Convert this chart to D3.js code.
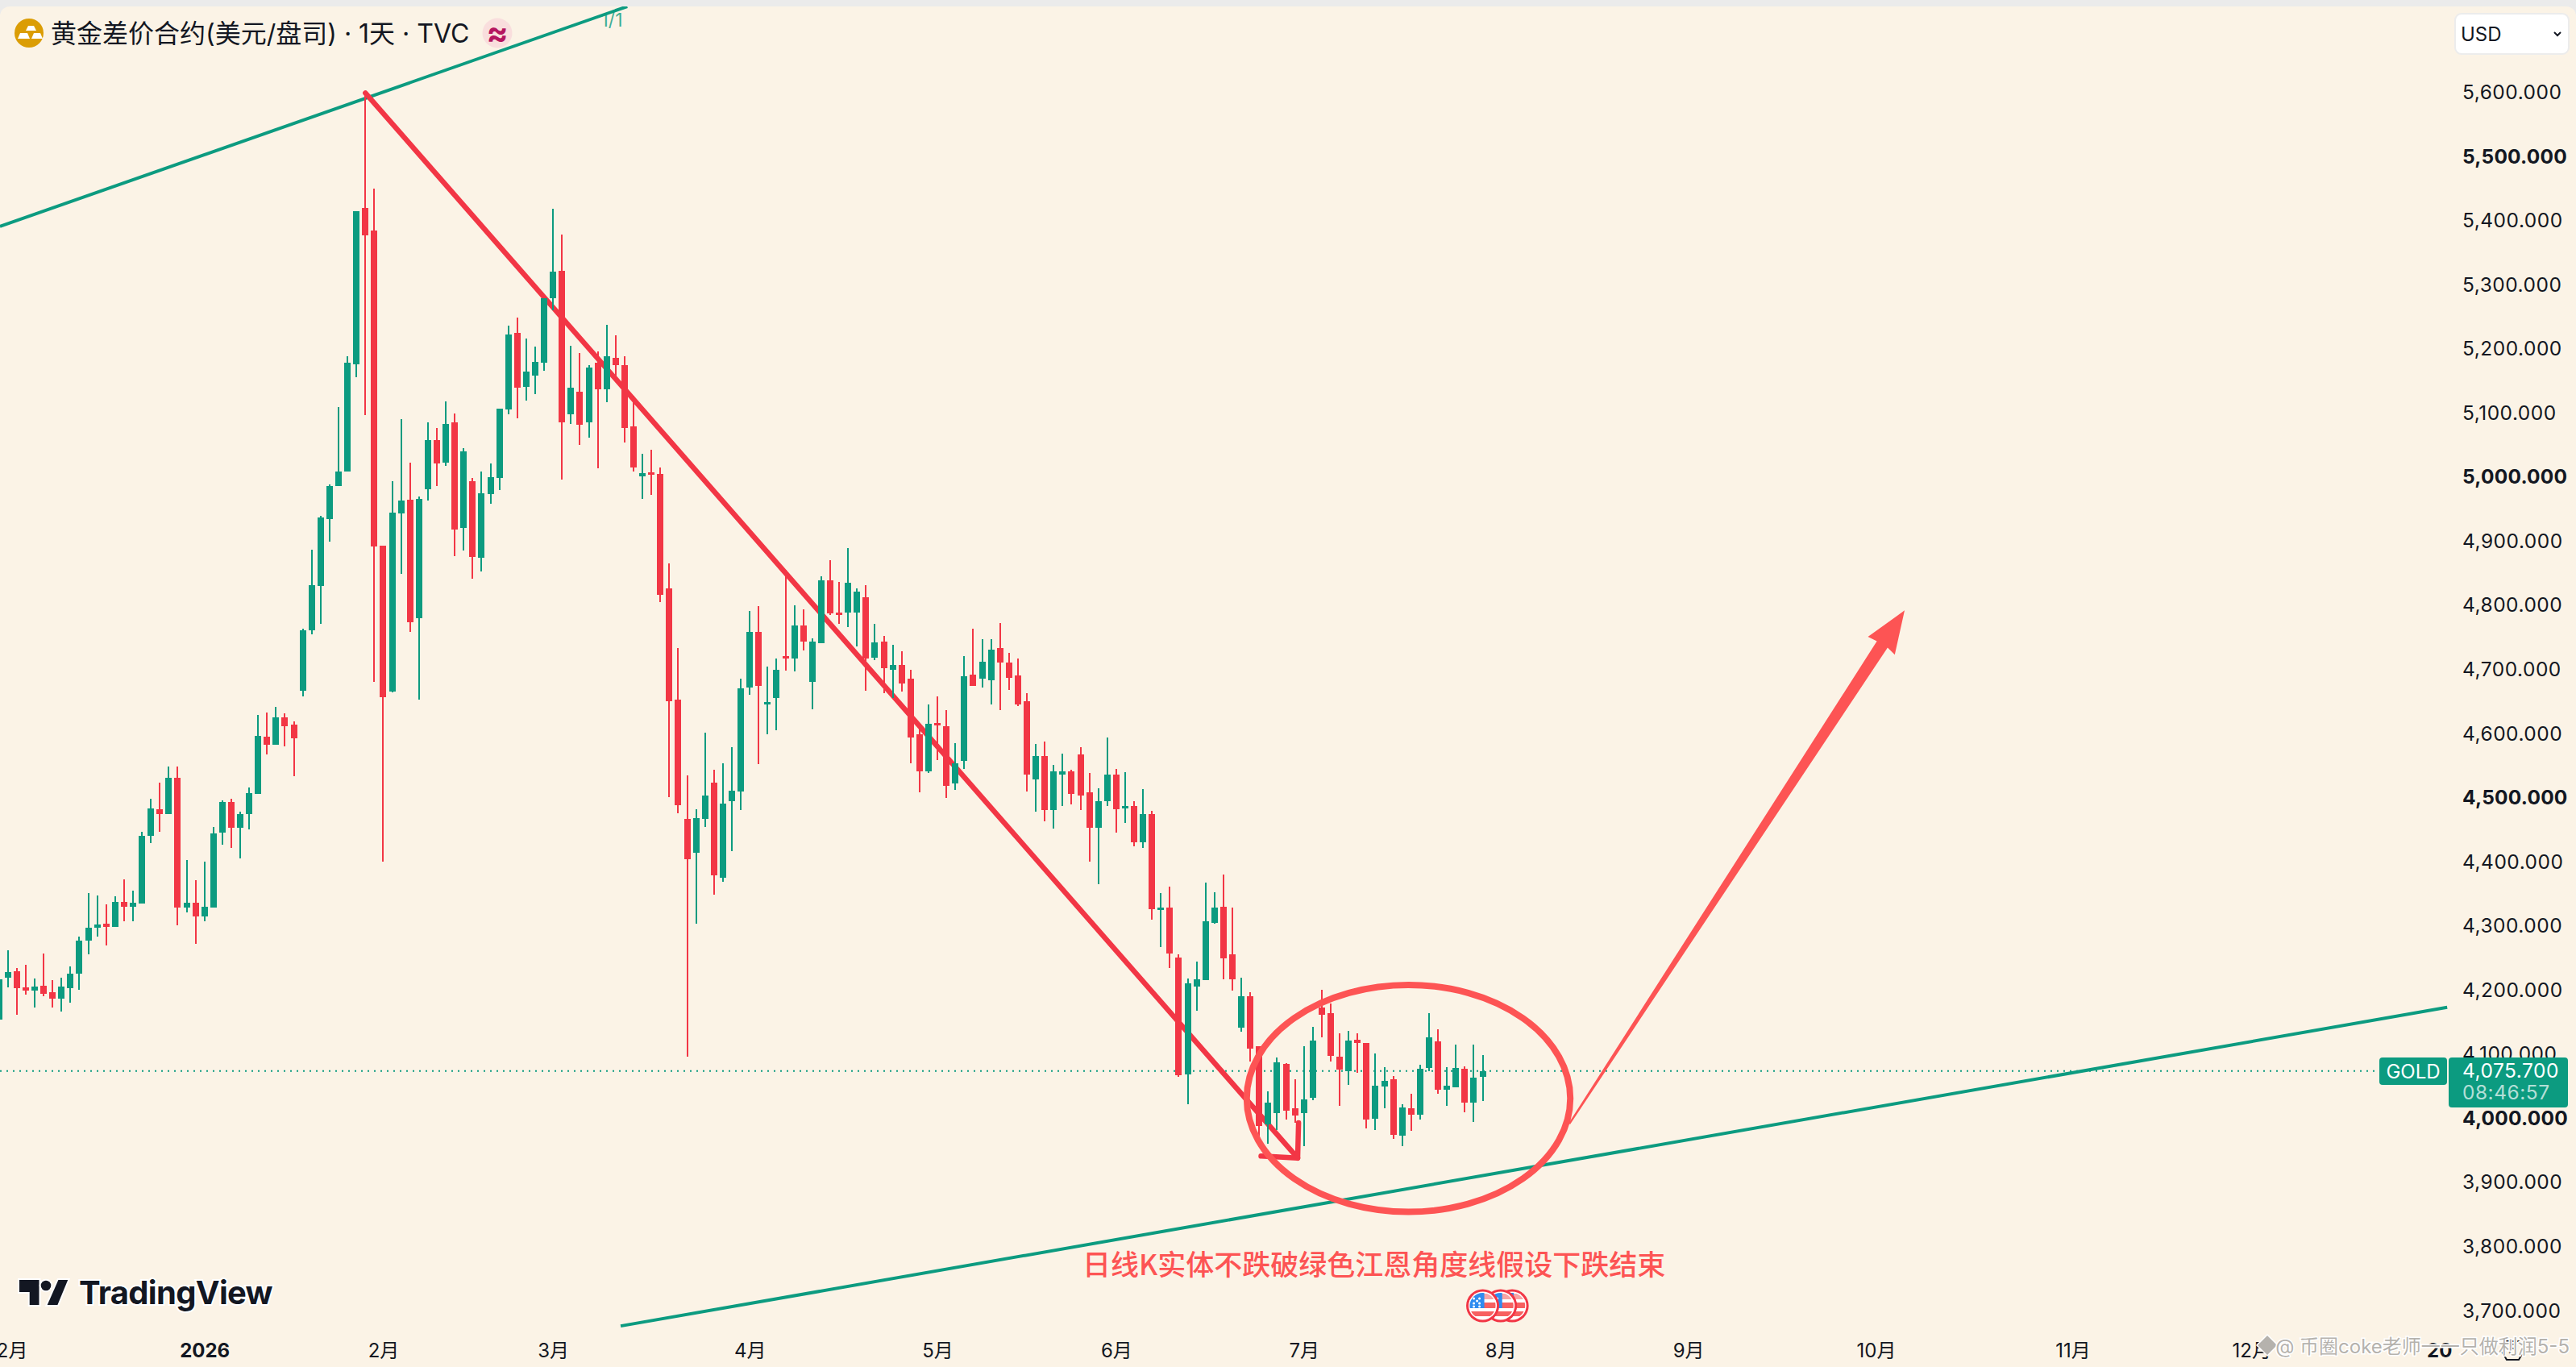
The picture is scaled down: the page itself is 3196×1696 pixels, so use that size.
<!DOCTYPE html>
<html><head><meta charset="utf-8">
<script src="https://cdnjs.cloudflare.com/ajax/libs/d3/7.8.5/d3.min.js"></script>
<style>html,body{margin:0;padding:0;background:#ebebeb;width:3196px;height:1696px;overflow:hidden}
svg{display:block}text{font-family:Inter,"Noto Sans CJK SC",sans-serif}</style></head>
<body><svg id="c" width="3196" height="1696"></svg>
<script>
const opens=[4156,4221,4231,4206,4201,4209,4199,4188,4205,4227,
4279,4299,4305,4300,4339,4332,4337,4442,4484,4477,
4533,4330,4338,4317,4330,4448,4495,4455,4477,4508,
4597,4585,4627,4616,4669,4763,4832,4936,4988,5011,
5178,5422,5386,4895,4667,4945,4967,4782,4983,5060,
5025,5087,4923,4996,4876,4975,5001,5108,5227,5143,
5160,5180,5281,5324,5100,5135,5087,5180,5139,5188,
5176,5081,5003,5009,5007,4829,4655,4469,4416,4469,
4525,4377,4496,4511,4674,4760,4649,4657,4723,4719,
4770,4683,4743,4841,4791,4791,4791,4814,4720,4745,
4702,4709,4687,4601,4543,4619,4614,4524,4559,4694,
4687,4685,4735,4713,4693,4653,4531,4567,4483,4538,
4543,4569,4510,4455,4496,4538,4487,4489,4433,4477,
4328,4331,4253,4070,4207,4217,4307,4332,4258,4143,
4192,4115,3993,4010,4087,4017,4010,4034,4175,4166,
4098,4076,4124,4119,4001,4052,4063,3975,4017,4008,
4080,4122,4047,4050,4079,4026,4067];
const closes=[4219,4230,4205,4201,4207,4196,4188,4207,4227,4279,
4299,4304,4301,4339,4332,4338,4443,4485,4477,4533,
4330,4338,4317,4332,4446,4495,4455,4477,4509,4598,
4585,4627,4614,4595,4763,4834,4939,4988,5011,5180,
5417,5379,4894,4659,4947,4965,4776,4968,5060,5023,
5085,4920,5042,4877,4977,5002,5109,5225,5142,5166,
5182,5281,5322,5087,5142,5084,5173,5139,5191,5176,
5078,5017,5008,5007,4818,4653,4490,4406,4470,4505,
4381,4493,4513,4673,4760,4676,4651,4702,4720,4770,
4745,4745,4841,4789,4788,4837,4823,4719,4744,4704,
4709,4680,4596,4543,4617,4616,4520,4556,4692,4676,
4714,4733,4713,4689,4648,4538,4567,4483,4543,4543,
4508,4505,4455,4496,4538,4484,4489,4432,4477,4328,
4330,4259,4069,4212,4219,4309,4331,4251,4219,4192,
4111,3990,4026,4089,4014,4006,4031,4123,4163,4099,
4078,4123,4119,4000,4053,4060,3976,4019,4008,4079,
4128,4047,4053,4081,4026,4065,4075.7];
const highs=[4219,4264,4236,4241,4220,4259,4218,4221,4239,4285,
4353,4350,4336,4348,4374,4357,4449,4500,4526,4551,
4551,4405,4373,4402,4456,4498,4500,4480,4518,4631,
4635,4644,4633,4621,4766,4889,4941,4990,5111,5191,
5417,5601,5452,4895,4995,5093,5024,4972,5087,5078,
5120,5101,5047,5001,5011,5023,5109,5238,5251,5218,
5206,5281,5420,5380,5207,5195,5176,5198,5240,5223,
5191,5129,5038,5045,5017,4867,4736,4537,4484,4603,
4545,4556,4581,4688,4793,4801,4707,4719,4857,4802,
4796,4751,4847,4872,4839,4891,4829,4834,4773,4754,
4740,4730,4702,4609,4647,4660,4639,4587,4723,4766,
4749,4749,4774,4728,4719,4665,4586,4589,4553,4571,
4545,4581,4540,4517,4596,4547,4542,4496,4515,4482,
4353,4363,4258,4220,4246,4370,4355,4382,4331,4221,
4199,4115,4044,4097,4088,4063,4115,4144,4203,4181,
4134,4138,4134,4119,4103,4082,4068,4024,4040,4086,
4166,4141,4082,4117,4083,4117,4100];
const lows=[4156,4206,4163,4195,4175,4192,4175,4169,4182,4203,
4258,4285,4271,4300,4309,4309,4337,4431,4449,4477,
4303,4323,4274,4309,4330,4429,4424,4407,4452,4508,
4570,4585,4582,4536,4660,4757,4773,4901,4988,5011,
5158,5099,4683,4402,4666,4851,4761,4655,4965,4988,
5020,4879,4888,4843,4855,4960,4982,5100,5094,5121,
5131,5168,5262,4998,5085,5052,5063,5016,5119,5153,
5056,5011,4968,4974,4807,4503,4478,4098,4305,4456,
4351,4371,4419,4483,4662,4554,4601,4607,4700,4699,
4731,4640,4743,4787,4773,4768,4738,4669,4716,4665,
4658,4667,4556,4510,4540,4561,4501,4514,4547,4676,
4674,4648,4639,4670,4645,4511,4480,4465,4454,4489,
4491,4483,4402,4367,4489,4447,4463,4426,4424,4312,
4269,4236,4066,4024,4170,4217,4306,4219,4201,4137,
4090,3968,3962,3984,4000,3995,3959,4030,4128,4091,
4021,4054,4073,3986,3984,4017,3970,3959,3982,4000,
4076,4040,4021,4050,4011,3996,4029];
const priceTicks=[5600,5500,5400,5300,5200,5100,5000,4900,4800,4700,4600,4500,4400,4300,4200,4100,4000,3900,3800,3700];
const boldPrices=[5500,5000,4500,4000];
const timeTickBars=[1,23,43,62,84,105,125,146,168,189,210,232,252,273];
const timeTickLabels=["12月","2026","2月","3月","4月","5月","6月","7月","8月","9月","10月","11月","12月","20"];
const boldTimeLabels=["2026","20"];
const lastPrice=4075.7;
const eventBars=[166,168,169.3];
// drawings, as [bar, price]
const topGann=[[0.12,5393],[70.3,5736]];
const bottomGann=[[69.56,3678],[273.9,4175]];
const downLine=[[41,5601],[145.3,3940]];
const downHead=[[141.2,3943],[145.3,3940],[145.4,3995]];
const upArrow=[[175.62,3994.5],[210.1,4746],[209.1,4753],[213.2,4794],[212.1,4725],[211.3,4736],[175.78,3992.5]];
const circleMark={bar:157.7,barR:18.1,price:4033,priceR:177};

const GREEN="#0c9b80",RED="#f23645",SKETCH="#fd5454",BG="#fbf3e6",INK="#131722";
const svg=d3.select("#c");
const x=d3.scaleLinear().domain([1,167]).range([9.7,9.7+11.09*166]);
const y=d3.scaleLinear().domain([4000,5600]).range([1389,1389-0.7955*1600]);
const line=d3.line().x(d=>x(d[0])).y(d=>y(d[1]));
const bars=opens.map((o,i)=>({i,o,c:closes[i],h:highs[i],l:lows[i],up:closes[i]>=o}));

svg.append("rect").attr("x",0).attr("y",8).attr("width",3196).attr("height",1700).attr("rx",12).attr("fill",BG);
const defs=svg.append("defs");
defs.append("clipPath").attr("id","pane").append("rect").attr("x",0).attr("y",8).attr("width",3040).attr("height",1640);

// price axis
const yAxis=d3.axisRight(y).tickValues(priceTicks).tickSize(0).tickPadding(0).tickFormat(d=>d3.format(",.3f")(d));
const ya=svg.append("g").attr("transform","translate(3055,0)").call(yAxis);
ya.select(".domain").remove();
ya.selectAll("text").attr("x",0).attr("dy","0.26em").style("font-family",'Inter,sans-serif').style("font-size","24.5px")
  .style("letter-spacing",d=>boldPrices.includes(d)?"0.2px":"0.5px")
  .style("font-weight",d=>boldPrices.includes(d)?700:400).attr("fill",INK);

// time axis
const xAxis=d3.axisBottom(x).tickValues(timeTickBars).tickSize(0).tickPadding(0).tickFormat((d,i)=>timeTickLabels[i]);
const xa=svg.append("g").attr("transform","translate(0,1675)").call(xAxis);
xa.select(".domain").remove();
xa.selectAll("text").attr("y",0).attr("dy","0.36em").style("font-family",'Inter,"Noto Sans CJK SC",sans-serif').style("font-size","24px")
  .style("font-weight",(d,i)=>boldTimeLabels.includes(timeTickLabels[i])?700:400).attr("fill",INK);

const pane=svg.append("g").attr("clip-path","url(#pane)");
// last price dotted
pane.append("line").attr("x1",0).attr("x2",2946).attr("y1",y(lastPrice)).attr("y2",y(lastPrice))
  .attr("stroke",GREEN).attr("stroke-width",2).attr("stroke-dasharray","2 6");
// gann lines
[topGann,bottomGann].forEach(d=>pane.append("path").attr("d",line(d)).attr("fill","none").attr("stroke",GREEN).attr("stroke-width",4));
// down line + head (below the candles)
pane.append("path").attr("d",line(downLine)).attr("fill","none").attr("stroke",RED).attr("stroke-width",6.5).attr("stroke-linecap","round");
pane.append("path").attr("d",line(downHead)).attr("fill","none").attr("stroke",RED).attr("stroke-width",6.5).attr("stroke-linecap","round").attr("stroke-linejoin","round");

// candles
const cg=pane.append("g").attr("shape-rendering","crispEdges");
cg.selectAll("rect.w").data(bars).join("rect").attr("class","w")
  .attr("x",d=>Math.round(x(d.i))-1).attr("width",2)
  .attr("y",d=>y(d.h)).attr("height",d=>y(d.l)-y(d.h))
  .attr("fill",d=>d.up?GREEN:RED);
cg.selectAll("rect.b").data(bars).join("rect").attr("class","b")
  .attr("x",d=>Math.round(x(d.i))-4).attr("width",8)
  .attr("y",d=>y(Math.max(d.o,d.c))).attr("height",d=>Math.max(3,Math.abs(y(d.o)-y(d.c))))
  .attr("fill",d=>d.up?GREEN:RED);

// sketch layer
pane.append("ellipse").attr("cx",x(circleMark.bar)).attr("cy",y(circleMark.price))
  .attr("rx",x(circleMark.bar+circleMark.barR)-x(circleMark.bar))
  .attr("ry",y(circleMark.price-circleMark.priceR)-y(circleMark.price))
  .attr("fill","none").attr("stroke",SKETCH).attr("stroke-width",8);
pane.append("path").attr("d",line(upArrow)+"Z").attr("fill",SKETCH);

// annotation text
svg.append("text").attr("x",1343).attr("y",1569).attr("dy","0.36em").attr("fill",SKETCH)
  .style("font-family",'"Noto Sans CJK SC",sans-serif').style("font-size","35px").style("font-weight",500)
  .text("日线K实体不跌破绿色江恩角度线假设下跌结束");

// economic events
const flag=svg.append("g");
const evs=eventBars.slice().reverse();
evs.forEach((b,k)=>{
  const cx=x(b),cy=1620,id="ev"+k;
  defs.append("clipPath").attr("id",id).append("circle").attr("cx",cx).attr("cy",cy).attr("r",16);
  flag.append("circle").attr("cx",cx).attr("cy",cy).attr("r",20.5).attr("fill",RED);
  flag.append("circle").attr("cx",cx).attr("cy",cy).attr("r",17.5).attr("fill","#fff");
  const g=flag.append("g").attr("clip-path",`url(#${id})`);
  g.append("rect").attr("x",cx-17).attr("y",cy-15).attr("width",34).attr("height",7).attr("fill","#f9a5a5");
  g.append("rect").attr("x",cx-17).attr("y",cy-4).attr("width",34).attr("height",7).attr("fill","#f76060");
  g.append("rect").attr("x",cx-17).attr("y",cy+7).attr("width",34).attr("height",6).attr("fill","#f76060");
  g.append("rect").attr("x",cx-17).attr("y",cy-17).attr("width",19).attr("height",20).attr("fill","#2f8cf0");
  [[-11,-9],[-4,-9],[-11,-3],[-4,-3],[-7,-6],[-11,1],[-4,1]].forEach(p=>g.append("circle").attr("cx",cx+p[0]).attr("cy",cy+p[1]).attr("r",1.5).attr("fill","#fff"));
});

// title
svg.append("circle").attr("cx",36).attr("cy",41).attr("r",18).attr("fill","#db9d05");
svg.append("polygon").attr("points","32,38 35,32 42,32 45,38").attr("fill","#fff");
svg.append("polygon").attr("points","22,48 25,41 34,41 37,48").attr("fill","#fff");
svg.append("polygon").attr("points","39,48 42,41 50,41 53,48").attr("fill","#fff");
svg.append("text").attr("x",63).attr("y",41).attr("dy","0.36em").attr("fill",INK)
  .style("font-family",'Inter,"Noto Sans CJK SC",sans-serif').style("font-size","32px")
  .text("黄金差价合约(美元/盘司) · 1天 · TVC");
svg.append("circle").attr("cx",617).attr("cy",41).attr("r",18.5).attr("fill","#f9dcdc").attr("fill-opacity",0.92);
svg.append("text").attr("x",617).attr("y",41).attr("dy","0.36em").attr("text-anchor","middle").attr("fill","#b5155f")
  .style("font-size","40px").style("font-weight",700).text("≈");
svg.append("text").attr("x",759).attr("y",25).attr("dy","0.36em").attr("text-anchor","middle").attr("fill",GREEN)
  .attr("fill-opacity",0.8).style("font-size","23px").text("1/1");

// USD box
svg.append("rect").attr("x",3046).attr("y",17).attr("width",141).attr("height",50).attr("rx",8).attr("fill","#fff").attr("stroke","#ececec").attr("stroke-width",2);
svg.append("text").attr("x",3053).attr("y",42).attr("dy","0.36em").attr("fill",INK).style("font-size","24px").text("USD");
svg.append("path").attr("d","M3169 40l4 4l4 -4").attr("fill","none").attr("stroke",INK).attr("stroke-width",2);

// last price labels
svg.append("rect").attr("x",2952).attr("y",1312).attr("width",84).attr("height",34).attr("rx",4).attr("fill",GREEN);
svg.append("text").attr("x",2994).attr("y",1329).attr("dy","0.36em").attr("text-anchor","middle").attr("fill","#fff").style("font-size","24px").text("GOLD");
svg.append("rect").attr("x",3038).attr("y",1312).attr("width",148).attr("height",62).attr("rx",4).attr("fill",GREEN);
svg.append("text").attr("x",3055).attr("y",1328).attr("dy","0.36em").attr("fill","#fff").style("font-size","24.5px").style("letter-spacing","0.5px").text(d3.format(",.3f")(lastPrice));
svg.append("text").attr("x",3055).attr("y",1355).attr("dy","0.36em").attr("fill","#fff").attr("fill-opacity",0.7).style("font-size","24.5px").style("letter-spacing","0.5px").text("08:46:57");

// logo
const logo=svg.append("g").attr("fill","#131722").attr("stroke","#fff").attr("stroke-width",4).style("paint-order","stroke");
logo.append("polygon").attr("points","24,1588 48.5,1588 48.5,1619 36.7,1619 36.7,1603 24,1603");
logo.append("circle").attr("cx",57).attr("cy",1595).attr("r",6.3);
logo.append("polygon").attr("points","72.4,1588 84.2,1588 71.4,1619 58.7,1619");
logo.append("text").attr("x",98).attr("y",1604).attr("dy","0.36em").style("font-size","40px").style("font-weight",700).style("letter-spacing","-0.7px").text("TradingView");

// corner setting icon
svg.append("path").attr("d","M3110 1664h15l7 11l-7 12h-15l-7 -12z").attr("fill","none").attr("stroke",INK).attr("stroke-width",2);
svg.append("text").attr("x",3117).attr("y",1675).attr("dy","0.36em").attr("text-anchor","middle").attr("fill",INK).style("font-size","18px").text("5");

// watermark
const wm=svg.append("g").attr("fill","#b5b2ad").attr("stroke","#fff").attr("stroke-width",3).style("paint-order","stroke");
wm.append("path").attr("d","M2813 1657l12 12l-12 12l-12 -12z");
wm.append("text").attr("x",3188).attr("y",1670).attr("dy","0.36em").attr("text-anchor","end").style("font-family",'Inter,"Noto Sans CJK SC",sans-serif').style("font-size","24px").text("@ 币圈coke老师一一只做利润5-5");
</script></body></html>
